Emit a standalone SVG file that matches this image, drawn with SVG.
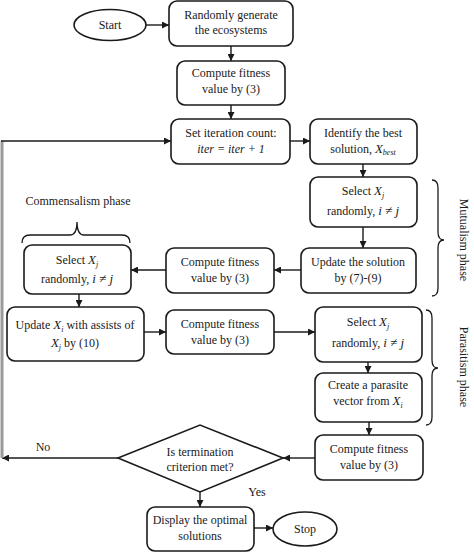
<svg xmlns="http://www.w3.org/2000/svg" width="474" height="552" viewBox="0 0 474 552" font-family="'Liberation Serif', 'Times New Roman', serif">
<style>
.n{fill:#fff;stroke:#1a1a1a;stroke-width:1.6}
text{font-family:'Liberation Serif','Times New Roman',serif;font-size:12px;fill:#1a1a1a;text-anchor:middle}
.m{font-style:italic;font-size:13px}
.s{font-style:italic;font-size:8px}
.c{fill:none;stroke:#1a1a1a;stroke-width:1.4}
.b{fill:none;stroke:#1a1a1a;stroke-width:1.3}
</style>
<defs>
<marker id="a" viewBox="0 0 10 10" refX="10" refY="5" markerWidth="7" markerHeight="7" markerUnits="userSpaceOnUse" orient="auto">
<path d="M0,0 L10,5 L0,10 z" fill="#1a1a1a"/>
</marker>
</defs>
<rect width="474" height="552" fill="#fff"/>
<g id="connectors">
<line class="c" x1="146" y1="25" x2="169" y2="25" marker-end="url(#a)"/>
<line class="c" x1="231" y1="46" x2="231" y2="61" marker-end="url(#a)"/>
<line class="c" x1="231" y1="105" x2="231" y2="119" marker-end="url(#a)"/>
<line class="c" x1="290" y1="141" x2="310" y2="141" marker-end="url(#a)"/>
<line class="c" x1="363" y1="164" x2="363" y2="177" marker-end="url(#a)"/>
<line class="c" x1="363" y1="227" x2="363" y2="248" marker-end="url(#a)"/>
<line class="c" x1="301" y1="270" x2="274" y2="270" marker-end="url(#a)"/>
<line class="c" x1="166" y1="270" x2="131" y2="270" marker-end="url(#a)"/>
<line class="c" x1="79" y1="294" x2="79" y2="307" marker-end="url(#a)"/>
<line class="c" x1="144" y1="332" x2="166" y2="332" marker-end="url(#a)"/>
<line class="c" x1="274" y1="332" x2="315" y2="332" marker-end="url(#a)"/>
<line class="c" x1="368" y1="362" x2="368" y2="373" marker-end="url(#a)"/>
<line class="c" x1="369" y1="422" x2="369" y2="435" marker-end="url(#a)"/>
<line class="c" x1="315" y1="458" x2="283" y2="458" marker-end="url(#a)"/>
<line class="c" x1="118" y1="458" x2="2" y2="458" marker-end="url(#a)"/>
<line x1="2" y1="458" x2="2" y2="141" stroke="#9a9a9a" stroke-width="3"/>
<line class="c" x1="1" y1="141" x2="171" y2="141" marker-end="url(#a)"/>
<line class="c" x1="200" y1="492" x2="200" y2="507" marker-end="url(#a)"/>
<line class="c" x1="254" y1="528" x2="273" y2="528" marker-end="url(#a)"/>
<text x="43" y="451">No</text>
<text x="257" y="496">Yes</text>
</g>
<g id="start">
<ellipse class="n" cx="110" cy="25" rx="36" ry="15.5"/>
<text x="110" y="29">Start</text>
</g>
<g id="init">
<rect class="n" x="169" y="1" width="124" height="45" rx="8"/>
<text x="231" y="19">Randomly generate</text>
<text x="231" y="34">the ecosystems</text>
</g>
<g id="fit1">
<rect class="n" x="177" y="61" width="108" height="44" rx="8"/>
<text x="231" y="77">Compute fitness</text>
<text x="231" y="93">value by (3)</text>
</g>
<g id="iter">
<rect class="n" x="171" y="119" width="119" height="45" rx="8"/>
<text x="231" y="137">Set iteration count:</text>
<text x="231" y="153" class="m" style="font-size:12px">iter = iter + 1</text>
</g>
<g id="best">
<rect class="n" x="310" y="119" width="107" height="45" rx="8"/>
<text x="363" y="137">Identify the best</text>
<text x="363" y="153">solution,  <tspan class="m">X</tspan><tspan class="s" dy="2">best</tspan></text>
</g>
<g id="mut-select">
<rect class="n" x="310" y="177" width="107" height="50" rx="8"/>
<text x="363" y="195">Select  <tspan class="m">X</tspan><tspan class="s" dy="3">j</tspan></text>
<text x="363" y="215">randomly,  <tspan class="m">i ≠ j</tspan></text>
</g>
<g id="mut-update">
<rect class="n" x="301" y="248" width="115" height="45" rx="8"/>
<text x="358" y="266">Update the solution</text>
<text x="358" y="282">by (7)-(9)</text>
</g>
<g id="fit2">
<rect class="n" x="166" y="248" width="108" height="45" rx="8"/>
<text x="220" y="266">Compute fitness</text>
<text x="220" y="282">value by (3)</text>
</g>
<g id="com-select">
<rect class="n" x="24" y="245" width="107" height="49" rx="8"/>
<text x="77" y="264">Select  <tspan class="m">X</tspan><tspan class="s" dy="3">j</tspan></text>
<text x="77" y="283">randomly,  <tspan class="m">i ≠ j</tspan></text>
</g>
<g id="com-update">
<rect class="n" x="7" y="307" width="137" height="54" rx="8"/>
<text x="75" y="329">Update  <tspan class="m">X</tspan><tspan class="s" dy="3">i</tspan><tspan dy="-3">  with assists of</tspan></text>
<text x="75" y="347"><tspan class="m">X</tspan><tspan class="s" dy="3">j</tspan><tspan dy="-3">  by (10)</tspan></text>
</g>
<g id="fit3">
<rect class="n" x="166" y="310" width="108" height="44" rx="8"/>
<text x="220" y="328">Compute fitness</text>
<text x="220" y="344">value by (3)</text>
</g>
<g id="par-select">
<rect class="n" x="315" y="307" width="107" height="55" rx="8"/>
<text x="368" y="326">Select  <tspan class="m">X</tspan><tspan class="s" dy="3">j</tspan></text>
<text x="368" y="347">randomly,  <tspan class="m">i ≠ j</tspan></text>
</g>
<g id="par-create">
<rect class="n" x="315" y="373" width="107" height="49" rx="8"/>
<text x="368" y="389">Create a parasite</text>
<text x="368" y="405">vector from  <tspan class="m">X</tspan><tspan class="s" dy="3">i</tspan></text>
</g>
<g id="fit4">
<rect class="n" x="315" y="435" width="108" height="45" rx="8"/>
<text x="369" y="453">Compute fitness</text>
<text x="369" y="469">value by (3)</text>
</g>
<g id="decision">
<polygon class="n" points="118,458 200,425 283,458 200,492"/>
<text x="200" y="456">Is termination</text>
<text x="200" y="471">criterion met?</text>
</g>
<g id="display">
<rect class="n" x="147" y="507" width="107" height="44" rx="8"/>
<text x="200" y="524">Display the optimal</text>
<text x="200" y="540">solutions</text>
</g>
<g id="stop">
<ellipse class="n" cx="305" cy="529" rx="32" ry="17"/>
<text x="305" y="533">Stop</text>
</g>
<g id="phases">
<text x="78" y="205">Commensalism phase</text>
<path class="b" d="M22,243 Q22,235 30,235 L70,235 Q77,235 77,222 Q77,235 84,235 L122,235 Q130,235 130,243"/>
<path class="b" d="M432,180 Q438,180 438,188 L438,232 Q438,240 444,240 Q438,240 438,248 L438,288 Q438,296 432,296"/>
<text transform="translate(460,240) rotate(90)">Mutualism phase</text>
<path class="b" d="M426,310 Q432,310 432,318 L432,360 Q432,368 438,368 Q432,368 432,376 L432,417 Q432,425 426,425"/>
<text transform="translate(460,367) rotate(90)">Parasitism phase</text>
</g>
</svg>
